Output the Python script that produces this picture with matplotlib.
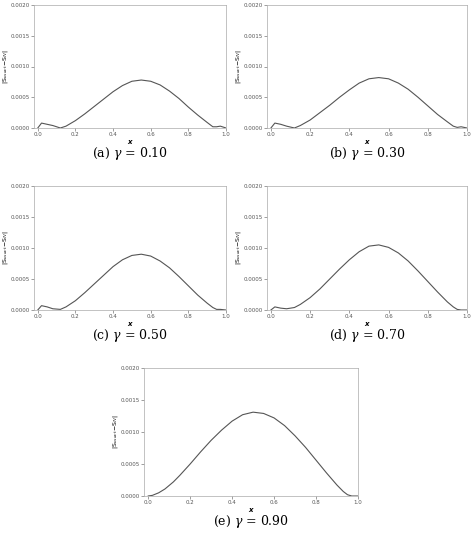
import matplotlib.pyplot as plt

plt.rcParams["mathtext.fontset"] = "dejavuserif"

x = [0, .02, .05, .08, .12, .15, .2, .25, .3, .35, .4, .45, .5, .55, .6, .65, .7, .75, .8, .85, .9, .93, .95, .97, 1.0]
err_a = [0, 8e-5, 6e-5, 4e-5, 0, 3e-5, 1.2e-4, 2.3e-4, 3.5e-4, 4.7e-4, 5.9e-4, 6.9e-4, 7.6e-4, 7.8e-4, 7.6e-4, 7.0e-4, 6.0e-4, 4.8e-4, 3.4e-4, 2.1e-4, 9e-5, 2e-5, 2e-5, 3e-5, 0]
err_b = [0, 8e-5, 6e-5, 3e-5, 0, 4e-5, 1.3e-4, 2.5e-4, 3.7e-4, 5.0e-4, 6.2e-4, 7.3e-4, 8.0e-4, 8.2e-4, 8.0e-4, 7.3e-4, 6.3e-4, 5.0e-4, 3.6e-4, 2.2e-4, 1.0e-4, 3e-5, 1e-5, 2e-5, 0]
err_c = [0, 7e-5, 5e-5, 2e-5, 1e-5, 5e-5, 1.5e-4, 2.8e-4, 4.2e-4, 5.6e-4, 7.0e-4, 8.1e-4, 8.8e-4, 9.0e-4, 8.7e-4, 7.9e-4, 6.8e-4, 5.4e-4, 3.9e-4, 2.4e-4, 1.1e-4, 4e-5, 1e-5, 1e-5, 0]
err_d = [0, 5e-5, 3e-5, 2e-5, 4e-5, 9e-5, 2.0e-4, 3.4e-4, 5.0e-4, 6.6e-4, 8.1e-4, 9.4e-4, 1.03e-3, 1.05e-3, 1.01e-3, 9.2e-4, 7.9e-4, 6.3e-4, 4.6e-4, 2.9e-4, 1.3e-4, 5e-5, 1e-5, 0, 0]
err_e = [0, 1e-5, 5e-5, 1.1e-4, 2.2e-4, 3.2e-4, 5.0e-4, 6.9e-4, 8.7e-4, 1.03e-3, 1.17e-3, 1.27e-3, 1.31e-3, 1.29e-3, 1.22e-3, 1.10e-3, 9.4e-4, 7.6e-4, 5.6e-4, 3.6e-4, 1.7e-4, 7e-5, 2e-5, 0, 0]
captions = ["(a) $\\gamma$ = 0.10", "(b) $\\gamma$ = 0.30", "(c) $\\gamma$ = 0.50",
            "(d) $\\gamma$ = 0.70", "(e) $\\gamma$ = 0.90"]
series = [err_a, err_b, err_c, err_d, err_e]

W, H = 474, 542
fig = plt.figure(figsize=(W / 100, H / 100), dpi=100)
# axes boxes in pixels: left, top, right, bottom
boxes = [(34, 5, 226, 128), (267, 5, 467, 128),
         (34, 186, 226, 310), (267, 186, 467, 310),
         (144, 368, 358, 496)]

for box, y, cap in zip(boxes, series, captions):
    l, t, r, b = box
    ax = fig.add_axes([l / W, 1 - b / H, (r - l) / W, (b - t) / H])
    ax.plot(x, y, color="#555555", lw=0.8)
    ax.set_xlim(-0.02, 1.0)
    ax.set_ylim(0, 0.002)
    ax.set_xticks([0, .2, .4, .6, .8, 1.0])
    ax.set_yticks([0, .0005, .001, .0015, .002])
    ax.set_yticklabels(["0.0000", "0.0005", "0.0010", "0.0015", "0.0020"])
    ax.tick_params(labelsize=4, length=2, width=0.4, colors="#555555", pad=1)
    for s in ax.spines.values():
        s.set_color("#aaaaaa")
        s.set_linewidth(0.5)
    ax.set_xlabel("x", fontsize=5, style="italic", fontweight="bold", labelpad=1)
    ax.set_ylabel("|S$_{exact}$\u2212S$_{N}$|", fontsize=4.5, labelpad=0.5)
    fig.text((l + r) / 2 / W, 1 - (b + 26) / H, cap, ha="center", va="center",
             fontsize=9, family="DejaVu Serif")

fig.savefig("out.png", dpi=100)
